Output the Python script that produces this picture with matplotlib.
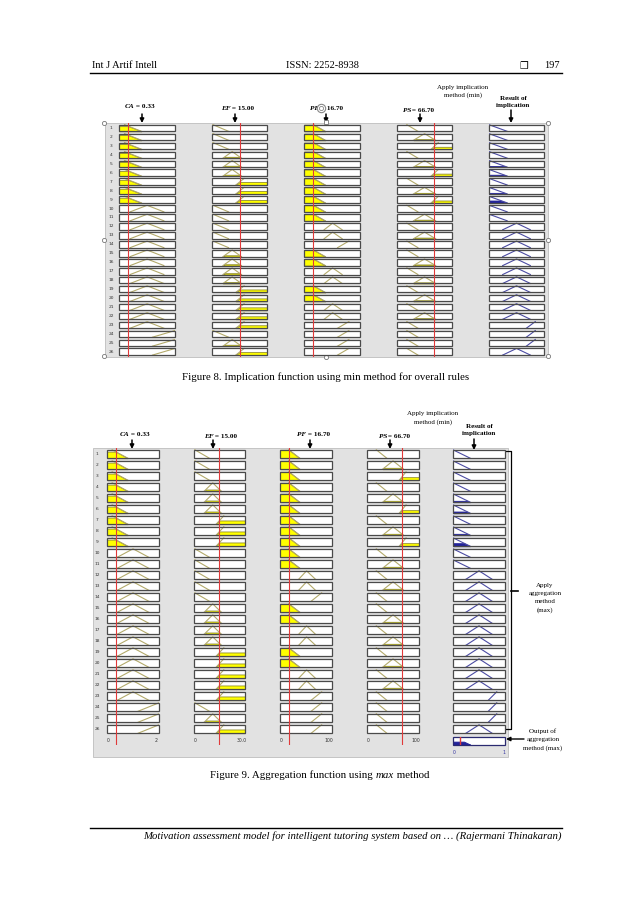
import numpy as np
import matplotlib
matplotlib.use("Agg")
import matplotlib.pyplot as plt
from matplotlib.patches import Rectangle

plt.rcParams['font.family'] = ['Liberation Serif', 'DejaVu Sans']

W, H = 638, 902

# ---------------- data ----------------
var_names = ['CA', 'EF', 'PF', 'PS']
var_ranges = [(0, 2), (0, 30), (0, 100), (0, 100)]
input_values = [0.33, 15.00, 16.70, 66.70]
value_labels = ['0.33', '15.00', '16.70', '66.70']
range_labels = [('0', '2'), ('0', '30.0'), ('0', '100'), ('0', '100')]
out_range = (0, 1)
out_range_labels = ('0', '1')

# trapezoid breakpoints a, b, c, d
ca_mfs = {'L': [0, 0, 0.2, 0.8], 'M': [0.4, 1.0, 1.0, 1.6], 'H': [1.2, 2.0, 2.0, 2.0]}
ef_mfs = {'L': [0, 0, 0.5, 9], 'M': [6, 11, 11, 16], 'H': [13, 17.5, 30, 30]}
pf_mfs = {'L': [0, 0, 17, 38], 'M': [36, 51, 51, 68], 'H': [60, 80, 100, 100]}
ps_mfs = {'L': [0, 0, 18, 38], 'M': [30, 50, 50, 70], 'H': [62, 75, 100, 100]}
out_mfs = {'L': [0, 0, 0, 0.33], 'M': [0.25, 0.5, 0.5, 0.75], 'H': [0.68, 0.84, 1, 1]}
input_mfs = [ca_mfs, ef_mfs, pf_mfs, ps_mfs]

# rule base (26 rules), one letter per rule
rules_ca = 'LLLLLLLLLMMMMMMMMMMMMMMHHH'
rules_ef = 'LLLMMMHHHLLLLLMMMMHHHHHLMH'
rules_pf = 'LLLLLLLLLLLMMHLLMMLLMMHHHH'
rules_ps = 'LMHLMHLMHLMLMLLMLMLMLMLLLL'
rules_out = 'LLLLLLLLLLLMMMMMMMMMMMHHHM'
rule_inputs = [rules_ca, rules_ef, rules_pf, rules_ps]
n_rules = len(rules_out)

# ---------------- styles ----------------
PANEL = '#e2e2e2'
BOXEDGE = '#4a4a4a'
MFLINE = '#b3aa6b'
YELLOW = '#ffff00'
YEDGE = '#8f8a2e'
BLUELINE = '#4b4ba3'
BLUEFILL = '#23239a'
RED = '#e03a3a'


def trap(x, p):
    a, b, c, d = p
    x = np.asarray(x, dtype=float)
    up = np.ones_like(x) if b == a else np.clip((x - a) / (b - a), 0, 1)
    down = np.ones_like(x) if d == c else np.clip((d - x) / (d - c), 0, 1)
    return np.minimum(up, down)


# firing strength of each rule
strength = []
for r in range(n_rules):
    mus = [float(trap(input_values[k], input_mfs[k][rule_inputs[k][r]])) for k in range(4)]
    strength.append(min(mus))

fig = plt.figure(figsize=(W / 100, H / 100), dpi=100)
ax0 = fig.add_axes([0, 0, 1, 1], zorder=0)
ax0.set_xlim(0, W)
ax0.set_ylim(H, 0)
ax0.axis('off')
renderer = fig.canvas.get_renderer()


def col_axes(x0, x1, y0, y1, lo, hi, row1, pitch):
    ax = fig.add_axes([x0 / W, 1 - y1 / H, (x1 - x0) / W, (y1 - y0) / H], zorder=2)
    ax.patch.set_alpha(0)
    ax.set_xlim(lo, hi)
    ax.set_ylim(1 + (y1 - row1) / pitch, 1 + (y0 - row1) / pitch)
    ax.axis('off')
    return ax


def draw_cell(ax, r, mf, lo, hi, bh, clip, line, fill, fedge):
    top = r - bh / 2
    bot = r + bh / 2
    ax.add_patch(Rectangle((lo, top), hi - lo, bh, facecolor='white', edgecolor='none', zorder=1))
    xs = np.linspace(lo, hi, 600)
    mu = trap(xs, mf)
    if clip > 0:
        mc = np.minimum(mu, clip)
        ax.fill_between(xs, bot, bot - mc * bh, where=mc > 0, facecolor=fill,
                        edgecolor=fedge, linewidth=0.6, zorder=2)
    # only the sloped parts show; flat parts sit on the box edges
    inner = (mu > 0) & (mu < 1)
    keep = inner | np.roll(inner, 1) | np.roll(inner, -1)
    ys = np.where(keep, bot - mu * bh, np.nan)
    ax.plot(xs, ys, color=line, lw=0.8, zorder=3)
    ax.add_patch(Rectangle((lo, top), hi - lo, bh, facecolor='none', edgecolor=BOXEDGE,
                           lw=0.9, zorder=4, clip_on=False))


def draw_viewer(lay):
    px0, py0, px1, py1 = lay['panel']
    ax0.add_patch(Rectangle((px0, py0), px1 - px0, py1 - py0, facecolor=PANEL,
                            edgecolor='#bdbdbd', lw=0.6))
    row1, pitch, boxh = lay['row1'], lay['pitch'], lay['boxh']
    bh = boxh / pitch
    for r in range(n_rules):
        ax0.text(lay['numx'], row1 + r * pitch, str(r + 1), fontsize=3.2,
                 ha='center', va='center', family='DejaVu Sans', color='#333333')
    for k in range(4):
        x0, x1 = lay['cols'][k]
        lo, hi = var_ranges[k]
        ax = col_axes(x0, x1, py0, lay['red_bottom'], lo, hi, row1, pitch)
        for r in range(n_rules):
            mf = input_mfs[k][rule_inputs[k][r]]
            clip = float(trap(input_values[k], mf))
            draw_cell(ax, r + 1, mf, lo, hi, bh, clip, MFLINE, YELLOW, YEDGE)
        ax.axvline(input_values[k], color=RED, lw=0.8, zorder=5)
    x0, x1 = lay['cols'][4]
    ax = col_axes(x0, x1, py0, lay['red_bottom'], out_range[0], out_range[1], row1, pitch)
    for r in range(n_rules):
        draw_cell(ax, r + 1, out_mfs[rules_out[r]], out_range[0], out_range[1], bh,
                  strength[r], BLUELINE, BLUEFILL, BLUEFILL)


def text_run(xc, y, parts, size, kern=0.0):
    # parts: list of (string, style, weight); centred as a whole on xc
    widths = []
    for s, st, wt in parts:
        t = ax0.text(0, y, s, fontsize=size, style=st, weight=wt, ha='left', va='center')
        widths.append(t.get_window_extent(renderer).width - kern)
        t.remove()
    x = xc - sum(widths) / 2
    for (s, st, wt), w in zip(parts, widths):
        ax0.text(x, y, s, fontsize=size, style=st, weight=wt, ha='left', va='center')
        x += w


def label(x, y, name, value, size=5.2):
    text_run(x, y, [(name, 'italic', 'bold'), (' = ' + value, 'normal', 'bold')], size, kern=1.0)


def down_arrow(x, y0, y1):
    ax0.annotate('', xy=(x, y1), xytext=(x, y0),
                 arrowprops=dict(arrowstyle='-|>', color='black', lw=1.1, mutation_scale=6,
                                 shrinkA=0, shrinkB=0))


# ---------------- page header / footer ----------------
ax0.text(92, 66, 'Int J Artif Intell', fontsize=7.5, va='center', ha='left')
ax0.text(322, 66, 'ISSN: 2252-8938', fontsize=7.5, va='center', ha='center')
ax0.text(524, 66, '\u2752', fontsize=7, va='center', ha='center', family='DejaVu Sans')
ax0.text(560, 66, '197', fontsize=7.5, va='center', ha='right')
ax0.plot([90, 562], [73, 73], color='black', lw=1.0)
ax0.plot([90, 562], [828, 828], color='black', lw=1.0)
ax0.text(562, 836, 'Motivation assessment model for intelligent tutoring system based on \u2026 (Rajermani Thinakaran)',
         fontsize=7.75, style='italic', ha='right', va='center')

# ---------------- figure 8 ----------------
fig8 = dict(panel=(105, 123, 548, 357), row1=128, pitch=8.95, boxh=6.6, numx=111,
            cols=[(119, 175), (212, 267), (304, 360), (397, 452), (489, 544)], red_bottom=357)
draw_viewer(fig8)
f8_lab = [(139, 106), (237, 109), (326, 108), (418, 110)]
f8_arr = [142, 235, 326, 420]
for k in range(4):
    label(f8_lab[k][0], f8_lab[k][1], var_names[k], value_labels[k])
    down_arrow(f8_arr[k], 114, 123)
ax0.text(463, 87, 'Apply implication', fontsize=5, ha='center', va='center')
ax0.text(463, 95.5, 'method (min)', fontsize=5, ha='center', va='center')
ax0.text(513, 98, 'Result of', fontsize=5, weight='bold', ha='center', va='center')
ax0.text(513, 105, 'implication', fontsize=5, weight='bold', ha='center', va='center')
down_arrow(511, 110, 123)
# image selection handles
for hx, hy in [(104, 123), (548, 123), (104, 240), (548, 240), (104, 356), (326, 357), (548, 356)]:
    ax0.plot(hx, hy, 'o', ms=3, mfc='white', mec='#777777', mew=0.6, zorder=3)
ax0.plot(326, 122, 's', ms=2.5, mfc='white', mec='#777777', mew=0.6, zorder=3)
ax0.plot(320.5, 108, 'o', ms=6, mfc='white', mec='#888888', mew=0.8, zorder=3)
ax0.plot(320.5, 108, 'o', ms=3, mfc='none', mec='#888888', mew=0.6, zorder=3)
ax0.text(326, 377, 'Figure 8. Implication function using min method for overall rules',
         fontsize=7.8, ha='center', va='center')

# ---------------- figure 9 ----------------
fig9 = dict(panel=(93, 448, 508, 757), row1=454, pitch=11.0, boxh=8.4, numx=97,
            cols=[(107, 159), (194, 245), (280, 332), (367, 419), (453, 505)], red_bottom=745)
draw_viewer(fig9)
f9_lab = [(134, 434), (220, 436), (313, 435), (394, 437)]
f9_arr = [132, 213, 310, 390]
for k in range(4):
    label(f9_lab[k][0], f9_lab[k][1], var_names[k], value_labels[k])
    down_arrow(f9_arr[k], 440, 449)
    x0, x1 = fig9['cols'][k]
    ax0.text(x0 + 1, 740, range_labels[k][0], fontsize=3.3, ha='center', va='center',
             family='DejaVu Sans', color='#333333')
    ax0.text(x1 - 3, 740, range_labels[k][1], fontsize=3.3, ha='center', va='center',
             family='DejaVu Sans', color='#333333')
ax0.text(433, 414, 'Apply implication', fontsize=5, ha='center', va='center')
ax0.text(433, 422.5, 'method (min)', fontsize=5, ha='center', va='center')
ax0.text(479, 426, 'Result of', fontsize=5, weight='bold', ha='center', va='center')
ax0.text(479, 434, 'implication', fontsize=5, weight='bold', ha='center', va='center')
down_arrow(474, 439, 450)

# aggregated output
xo0, xo1 = fig9['cols'][4]
axo = fig.add_axes([xo0 / W, 1 - 744.5 / H, (xo1 - xo0) / W, 8 / H], zorder=2)
axo.set_xlim(*out_range)
axo.set_ylim(0, 1)
axo.axis('off')
xs = np.linspace(out_range[0], out_range[1], 400)
agg = np.zeros_like(xs)
for r in range(n_rules):
    agg = np.maximum(agg, np.minimum(trap(xs, out_mfs[rules_out[r]]), strength[r]))
axo.add_patch(Rectangle((0, 0), 1, 1, facecolor='white', edgecolor='none'))
axo.fill_between(xs, 0, agg, where=agg > 0, color=BLUEFILL, lw=0.6)
axo.add_patch(Rectangle((0, 0), 1, 1, facecolor='none', edgecolor='#2a2a70', lw=0.9, clip_on=False))
centroid = np.sum(xs * agg) / np.sum(agg)
axo.axvline(centroid, color=RED, lw=1.0)
ax0.text(xo0 + 1, 752, out_range_labels[0], fontsize=3.3, ha='center', va='center',
         family='DejaVu Sans', color='#3030a0')
ax0.text(xo1 - 1, 752, out_range_labels[1], fontsize=3.3, ha='center', va='center',
         family='DejaVu Sans', color='#3030a0')

# bracket for aggregation
ax0.plot([505, 511, 511, 505], [451, 451, 729, 729], color='black', lw=0.9)
ax0.plot([511, 518], [591, 591], color='black', lw=1.2)
for i, t in enumerate(['Apply', 'aggregation', 'method', '(max)']):
    ax0.text(545, 585 + i * 8.4, t, fontsize=5, ha='center', va='center')
for i, t in enumerate(['Output of', 'aggregation', 'method (max)']):
    ax0.text(543, 731 + i * 8.5, t, fontsize=5, ha='center', va='center')
ax0.annotate('', xy=(506, 739), xytext=(524, 739),
             arrowprops=dict(arrowstyle='-|>', color='black', lw=1.0, mutation_scale=6,
                             shrinkA=0, shrinkB=0))
text_run(320, 775, [('Figure 9. Aggregation function using ', 'normal', 'normal'),
                    ('max', 'italic', 'normal'), (' method', 'normal', 'normal')], 7.8)

fig.savefig('out.png', dpi=100, facecolor='white')
